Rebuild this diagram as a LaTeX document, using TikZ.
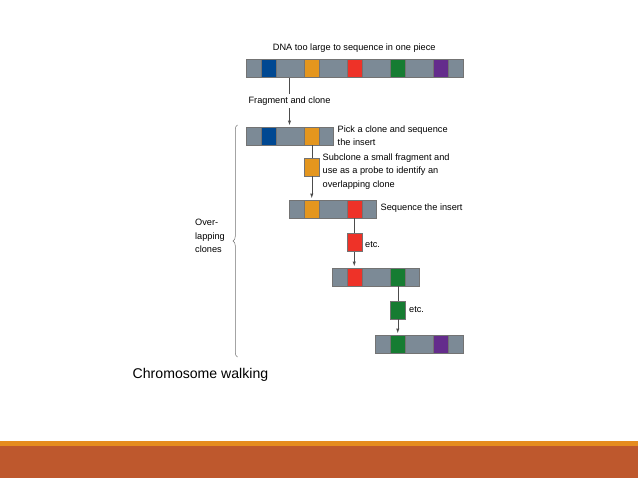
\documentclass[tikz,border=0pt]{standalone}
\usepackage{fontspec}
\setmainfont{Liberation Sans}
\usetikzlibrary{decorations.pathreplacing}
\definecolor{dnagray}{RGB}{124,138,150}
\definecolor{dnablue}{RGB}{0,72,146}
\definecolor{dnaorange}{RGB}{228,150,30}
\definecolor{dnared}{RGB}{238,50,40}
\definecolor{dnagreen}{RGB}{22,124,50}
\definecolor{dnapurple}{RGB}{100,44,140}
\definecolor{slidebrown}{RGB}{190,88,45}
\definecolor{slidestripe}{RGB}{230,140,30}

\begin{document}
\begin{tikzpicture}[
      x=1pt,y=-1pt,
      strand/.style={
        draw=black!55,
        fill=dnagray,
        line width=0.5pt,
        minimum width=87.5pt,
        minimum height=18pt,
        inner sep=0pt,
        anchor=north west
      },
      seg/.style={
        draw=black!55,
        fill=#1,
        line width=0.5pt,
        minimum width=15pt,
        minimum height=18pt,
        inner sep=0pt,
        anchor=north west
      },
      txt/.style={
        font=\fontsize{9.2}{13.5}\selectfont,
        align=left,
        inner sep=0pt
      },
      link/.style={black!70,line width=0.5pt},
      arr/.style={link,-latex,shorten >=2pt}
    ]
      \useasboundingbox (0,0) rectangle (638,478);
      % slide footer
      \fill[slidestripe] (0,441) rectangle (638,446);
      \fill[slidebrown] (0,446) rectangle (638,478);

      % whole DNA
      \node (dna) at (245.5,59.5) [strand,minimum width=217.5pt]{};
      \node (d1) at (261,59.5) [seg=dnablue]{};
      \node (d2) at (304,59.5) [seg=dnaorange]{};
      \node (d3) at (346.5,59.5) [seg=dnared]{};
      \node (d4) at (390,59.5) [seg=dnagreen]{};
      \node (d5) at (433,59.5) [seg=dnapurple]{};
      \node (title) at (354.25,53) [txt,anchor=south]{DNA too large to sequence in one piece};

      % clones
      \node (c1) at (245.5,127) [strand]{};
      \node (c1a) at (261,127) [seg=dnablue]{};
      \node (c1b) at (304,127) [seg=dnaorange]{};
      \node (c2) at (288.5,200) [strand]{};
      \node (c2a) at (304,200) [seg=dnaorange]{};
      \node (c2b) at (346.5,200) [seg=dnared]{};
      \node (c3) at (331.5,268) [strand]{};
      \node (c3a) at (346.5,268) [seg=dnared]{};
      \node (c3b) at (390,268) [seg=dnagreen]{};
      \node (c4) at (375,335) [strand]{};
      \node (c4a) at (390,335) [seg=dnagreen]{};
      \node (c4b) at (433,335) [seg=dnapurple]{};

      % probes
      \node (p1) at (304,158) [seg=dnaorange]{};
      \node (p2) at (346.5,233.5) [seg=dnared]{};
      \node (p3) at (390,301) [seg=dnagreen]{};

      % labels
      \node (frag) at (289.5,101) [txt,inner sep=3pt]{Fragment and clone};
      \node (pick) at (337.5,135.5) [txt,anchor=west]{Pick a clone and sequence\\the insert};
      \node (sub) at (322.5,171.5) [txt,anchor=west]{Subclone a small fragment and\\use as a probe to identify an\\overlapping clone};
      \node (seq) at (380.5,208.5) [txt,anchor=west]{Sequence the insert};
      \node (etc1) at (365,244.5) [txt,anchor=west]{etc.};
      \node (etc2) at (409,310) [txt,anchor=west]{etc.};
      \node (over) at (195,236) [txt,anchor=west]{Over-\\lapping\\clones};
      \node (walk) at (132.5,374.5) [txt,anchor=west,font=\fontsize{14.1}{16}\selectfont]{Chromosome walking};

      % connectors
      \draw[link] (frag.north |- dna.south) -- (frag.north);
      \draw[arr] (frag.south) -- (frag.south |- c1.north);
      \draw[link] (c1b.south) -- (p1.north);
      \draw[arr] (p1.south) -- (p1.south |- c2.north);
      \draw[link] (c2b.south) -- (p2.north);
      \draw[arr] (p2.south) -- (p2.south |- c3.north);
      \draw[link] (c3b.south) -- (p3.north);
      \draw[arr] (p3.south) -- (p3.south |- c4.north);

      % brace
      \draw[black!55,line width=0.5pt,decorate,decoration={brace,amplitude=4.5pt}]
        (237.5,357) -- (237.5,125);
    \end{tikzpicture}
\end{document}
